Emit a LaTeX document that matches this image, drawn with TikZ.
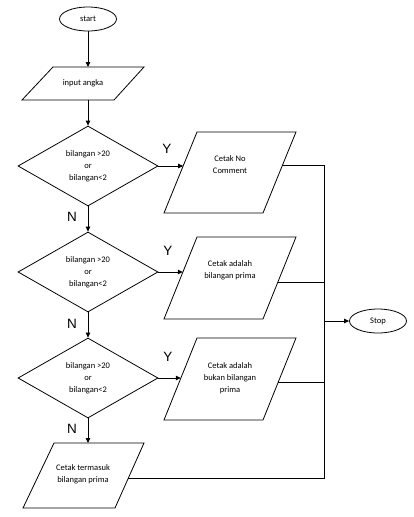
\documentclass[tikz,border=0pt]{standalone}
\usepackage{fontspec}
\setmainfont{Carlito}
\newfontfamily\yn{Liberation Sans}
\usetikzlibrary{shapes.geometric,arrows.meta,calc}
\newcommand{\mkpara}[7]{%
  \coordinate (#1-tl) at (#4,#2);
  \coordinate (#1-tr) at (#5,#2);
  \coordinate (#1-bl) at (#6,#3);
  \coordinate (#1-br) at (#7,#3);
  \draw[shp] (#1-tl) -- (#1-tr) -- (#1-br) -- (#1-bl) -- cycle;}
\begin{document}
\begin{tikzpicture}[x=1pt,y=-1pt,
  shp/.style={line width=0.8pt},
  txt/.style={font=\fontsize{8.5}{12}\selectfont, align=center, inner sep=0pt},
  term/.style={shp, draw, ellipse, minimum width=57pt, minimum height=24pt, inner sep=0pt, font=\fontsize{8.5}{12}\selectfont},
  dec/.style={shp, draw, diamond, minimum width=140pt, minimum height=80pt, inner sep=0pt, align=center, font=\fontsize{8.5}{12}\selectfont},
  lbl/.style={font=\yn\fontsize{13.5}{14}\selectfont, inner sep=0pt},
  arr/.style={line width=0.8pt, -{Triangle[length=5pt,width=4.5pt]}},
  ln/.style={line width=0.8pt}]
\useasboundingbox (0,0) rectangle (413,517);
% terminals
\node[term] (start) at (88,19) {start};
\node[term] (stop) at (378,321) {Stop};
% input
\mkpara{in}{67}{100}{53}{144}{22}{114}
\node[txt] (input) at (83,83) {input angka};
% decisions
\node[dec] (d1) at (88,166) {bilangan >20\\or\\bilangan<2};
\node[dec] (d2) at (88,272) {bilangan >20\\or\\bilangan<2};
\node[dec] (d3) at (88,378) {bilangan >20\\or\\bilangan<2};
% outputs
\mkpara{p1}{132}{213}{197}{296}{164}{263}
\node[txt] (t1) at (230,164.5) {Cetak No\\Comment};
\mkpara{p2}{237}{319}{197}{296}{164}{263}
\node[txt] (t2) at (230,270.5) {Cetak adalah\\bilangan prima};
\mkpara{p3}{338}{420}{197}{296}{164}{263}
\node[txt] (t3) at (230,378) {Cetak adalah\\bukan bilangan\\prima};
\mkpara{p4}{443}{508}{54}{144}{23}{115}
\node[txt] (t4) at (83,474) {Cetak termasuk\\bilangan prima};
% edge points
\coordinate (p1-in) at ($(p1-tl)!0.42!(p1-bl)$);
\coordinate (p2-in) at ($(p2-tl)!0.43!(p2-bl)$);
\coordinate (p3-in) at ($(p3-tl)!0.49!(p3-bl)$);
\coordinate (p1-out) at ($(p1-tr)!0.41!(p1-br)$);
\coordinate (p2-out) at ($(p2-tr)!0.55!(p2-br)$);
\coordinate (p3-out) at ($(p3-tr)!0.54!(p3-br)$);
\coordinate (p4-out) at ($(p4-tr)!0.55!(p4-br)$);
\coordinate (in-top) at (88,67);
\coordinate (in-bot) at (88,100);
\coordinate (p4-top) at (88,443);
\coordinate (bus-top) at (324,0 |- p1-out);
\coordinate (bus-bot) at (324,0 |- p4-out);
\coordinate (bus-mid) at (324,0 |- stop.west);
% connectors
\draw[arr] (start.south) -- (in-top);
\draw[arr] (in-bot) -- (d1.north);
\draw[arr] (d1.south) -- (d2.north);
\draw[arr] (d2.south) -- (d3.north);
\draw[arr] (d3.south) -- (p4-top);
\draw[arr] (d1.east) -- (d1.east -| p1-in);
\draw[arr] (d2.east) -- (d2.east -| p2-in);
\draw[arr] (d3.east) -- (d3.east -| p3-in);
\draw[ln] (p1-out) -- (bus-top) -- (bus-bot) -- (p4-out);
\draw[ln] (p2-out) -- (p2-out -| bus-top);
\draw[ln] (p3-out) -- (p3-out -| bus-top);
\draw[arr] (bus-mid) -- (stop.west);
% labels
\node[lbl] (y1) at (167,149) {Y};
\node[lbl] (y2) at (168,251) {Y};
\node[lbl] (y3) at (168,357) {Y};
\node[lbl] (n1) at (72,217) {N};
\node[lbl] (n2) at (72,324) {N};
\node[lbl] (n3) at (72,429) {N};
\end{tikzpicture}
\end{document}
